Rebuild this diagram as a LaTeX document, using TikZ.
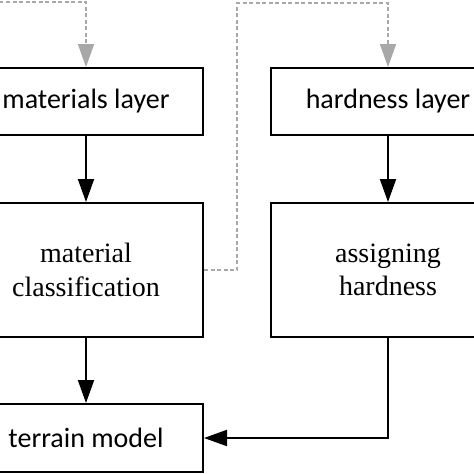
\documentclass[tikz,border=0pt]{standalone}
\usepackage{fontspec}
\setmainfont{Carlito}
\newfontfamily\serifft{Liberation Serif}
\usetikzlibrary{arrows.meta}
\definecolor{dashgray}{HTML}{A8A8A8}
\begin{document}
\begin{tikzpicture}[x=1pt,y=-1pt,
  box/.style={draw=black,line width=2pt,fill=white,minimum width=234pt,inner sep=0pt,align=center,
    font=\fontsize{28}{33.5}\selectfont},
  flow/.style={draw=black,line width=2pt,-{Triangle[length=23pt,width=16pt]}},
  hint/.style={draw=dashgray,line width=2pt,dash pattern=on 4pt off 2.5pt,-{Triangle[length=23pt,width=16pt,fill=dashgray]}}]
\useasboundingbox (0,0) rectangle (474,474);
\clip (0,0) rectangle (474,474);
\node[box,minimum height=67pt] (ml) at (86,101.5) {materials layer};
\node[box,minimum height=134pt] (mc) at (86,270) {\serifft material\\\serifft classification};
\node[box,minimum height=68pt] (tm) at (86,438) {terrain model};
\node[box,minimum height=67pt] (hl) at (388,101.5) {hardness layer};
\node[box,minimum height=134pt] (ah) at (388,270) {\serifft assigning\\\serifft hardness};
\coordinate (d0) at (-20,2);
\coordinate (c1) at (237,3);
\draw[hint] (d0) -| (ml.north);
\draw[hint] (mc.east) -| (c1) -| (hl.north);
\draw[flow] (ml) -- (mc);
\draw[flow] (hl) -- (ah);
\draw[flow] (mc) -- (tm);
\draw[flow] (ah.south) |- (tm.east);
\end{tikzpicture}
\end{document}
